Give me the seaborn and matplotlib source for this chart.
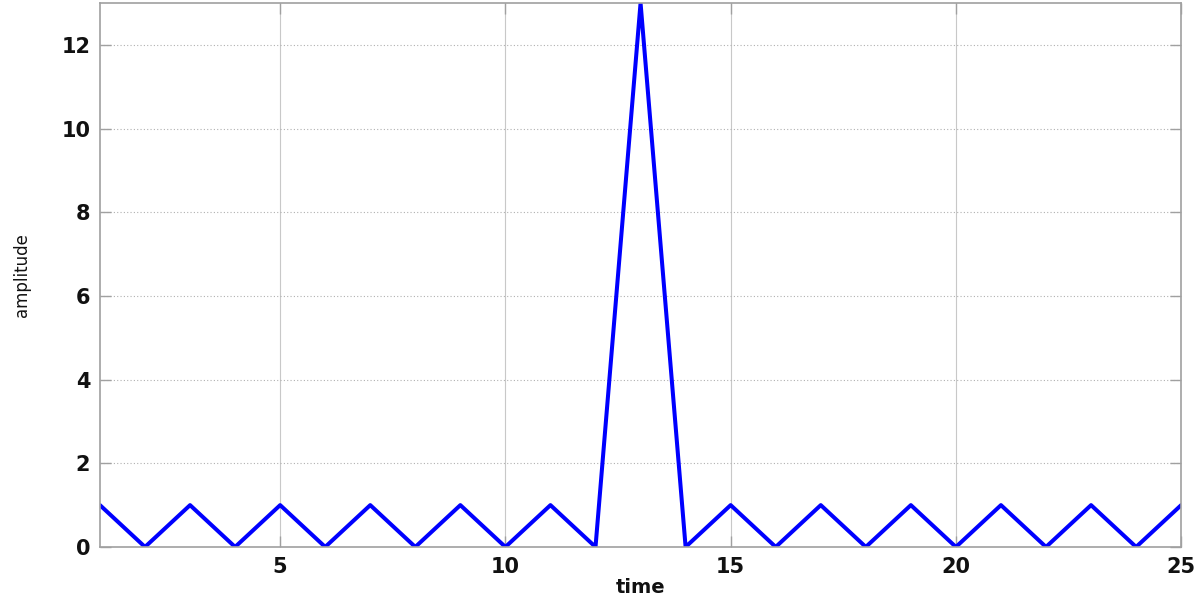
import matplotlib
matplotlib.use("Agg")
import matplotlib.pyplot as plt
import seaborn as sns
import pandas as pd

time = list(range(1, 26))
amplitude = [1, 0, 1, 0, 1, 0, 1, 0, 1, 0, 1, 0, 13, 0, 1, 0, 1, 0, 1, 0, 1, 0, 1, 0, 1]
xticks = [5, 10, 15, 20, 25]
yticks = [0, 2, 4, 6, 8, 10, 12]

sns.set_theme(style="white")
plt.rcParams['font.family'] = ['DejaVu Sans']

df = pd.DataFrame({"time": time, "amplitude": amplitude})

fig = plt.figure(figsize=(12, 6.01), dpi=100)
ax = fig.add_axes([0.0833, 0.0899, 0.9010, 0.905])
sns.lineplot(data=df, x="time", y="amplitude", color="#0000ff", linewidth=2.9, ax=ax)

ax.set_xlim(1, 25)
ax.set_ylim(0, 13)
ax.set_xticks(xticks)
ax.set_yticks(yticks)
ax.xaxis.grid(True, color="#c8c8c8", linestyle="-", linewidth=0.8)
ax.yaxis.grid(True, color="#b0b0b0", linestyle=(0, (1, 2)), linewidth=0.8)
ax.set_axisbelow(True)
for s in ax.spines.values():
    s.set_visible(True)
    s.set_color("#a0a0a0")
    s.set_linewidth(1.2)
ax.tick_params(axis="both", direction="in", length=8, color="#a0a0a0", width=1,
               labelsize=15, labelcolor="#111111", top=True, right=True, left=True, bottom=True,
               pad=7)
for lab in ax.get_xticklabels() + ax.get_yticklabels():
    lab.set_fontweight("bold")
ax.set_xlabel("time", fontsize=14, fontweight="bold", color="#111111", labelpad=1)
ax.set_ylabel("amplitude", fontsize=12, color="#111111", labelpad=22)

fig.savefig("out.png", dpi=100)
